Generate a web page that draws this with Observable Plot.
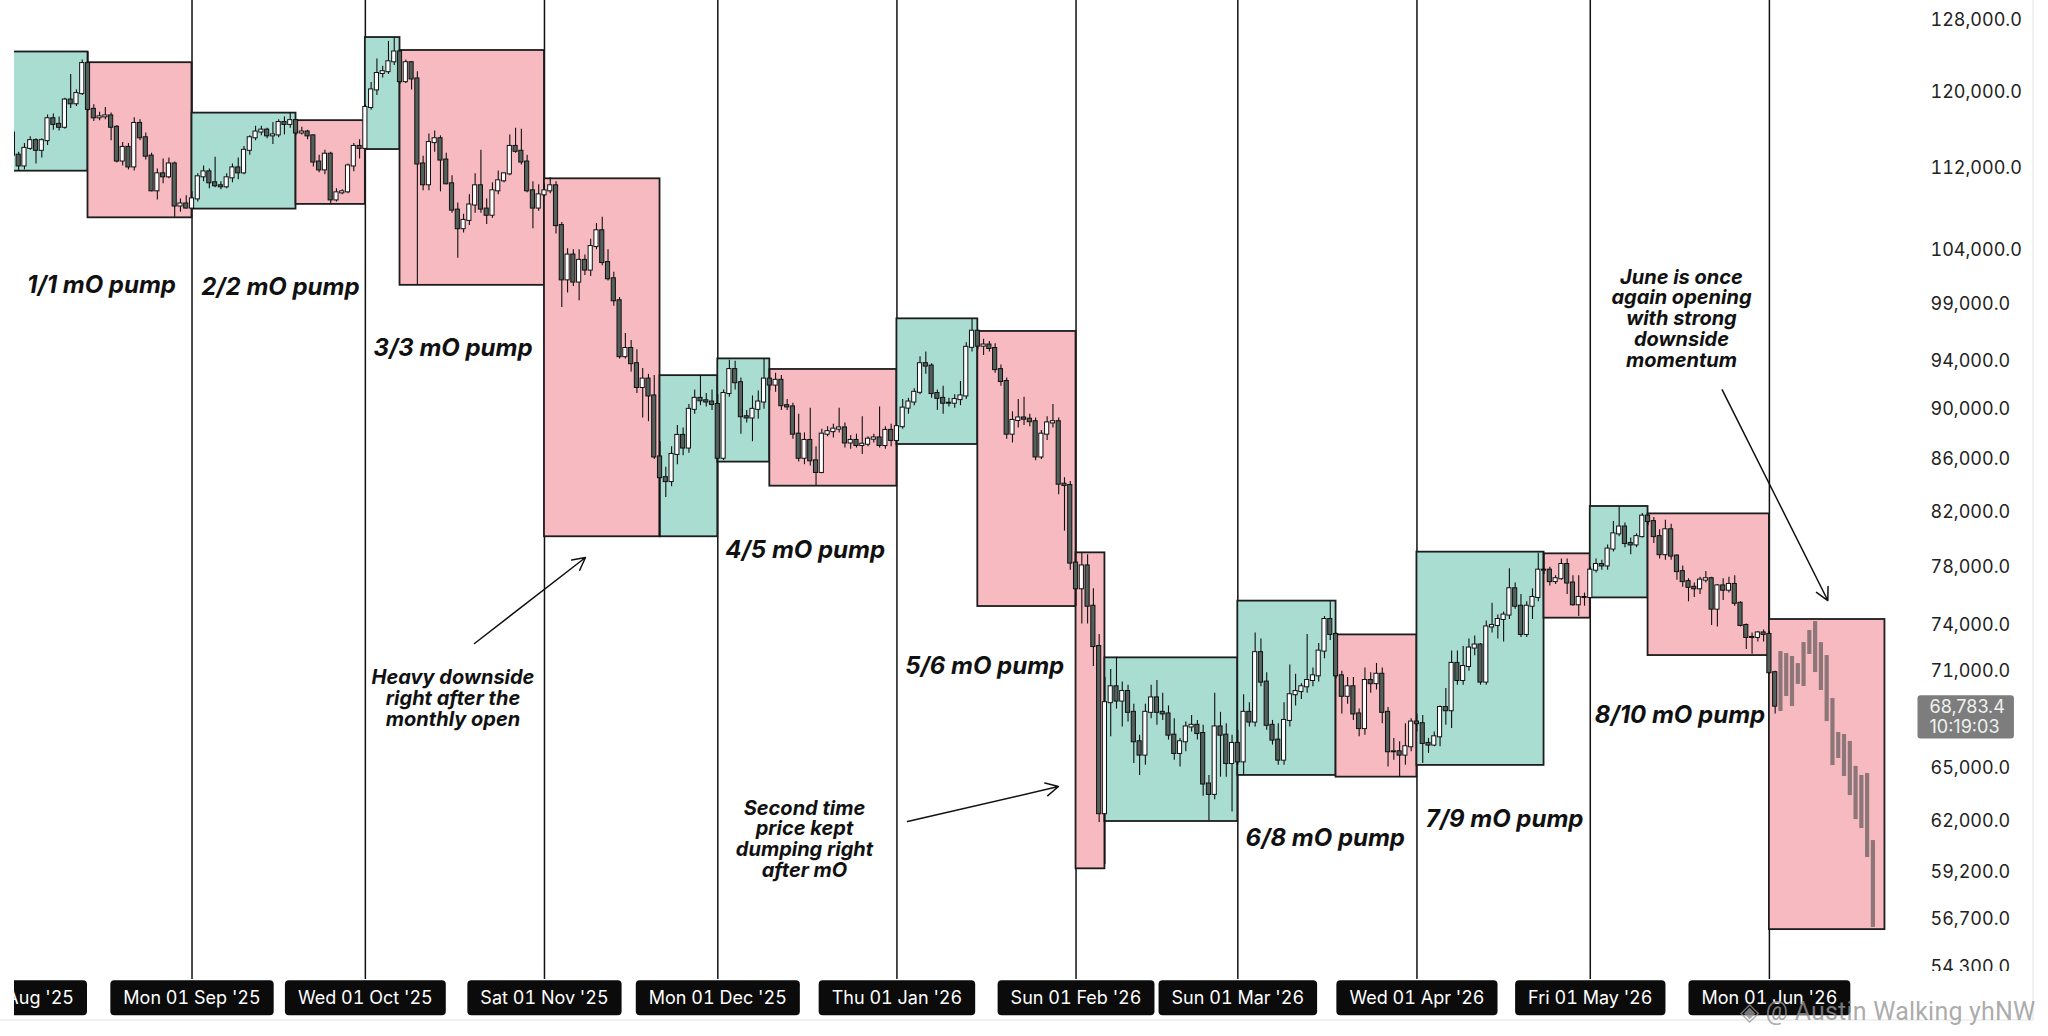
<!DOCTYPE html>
<html><head><meta charset="utf-8">
<script src="https://cdn.jsdelivr.net/npm/d3@7"></script>
<script src="https://cdn.jsdelivr.net/npm/@observablehq/plot@0.6"></script>
<style>
html,body{margin:0;padding:0;background:#fff;overflow:hidden}
#wrap{position:relative;width:2048px;height:1036px}
#wm{position:absolute;left:1740px;top:997px;font:25px Roboto,sans-serif;color:rgba(150,150,150,0.8);white-space:nowrap;letter-spacing:0.2px}
</style></head>
<body><div id="wrap"><div id="chart"></div><div id="wm">&#9672; @ Austin Walking yhNW</div></div>
<script>
// ---------- daily candles, thousands of USD: [open, high, low, close] ----------
const augOHLC = [
[115.6,116.0,112.6,113.3],[113.3,113.6,111.7,112.2],[112.2,114.5,111.8,114.0],[114.0,115.2,113.8,114.8],
[114.8,115.0,112.4,113.8],[113.8,115.0,113.0,114.8],[114.8,117.5,114.3,117.1],[117.1,117.6,115.9,116.5],
[116.5,117.3,115.8,116.2],[116.2,119.3,116.0,119.1],[119.1,121.9,118.2,118.7],[118.7,120.2,118.4,119.8],
[119.8,123.5,119.6,123.1],[123.1,124.4,117.9,118.1],[118.1,118.6,116.8,117.2],[117.2,117.8,116.9,117.3],
[117.3,118.3,117.0,117.4],[117.4,117.7,114.8,116.2],[116.2,116.4,112.5,112.7],[112.7,114.6,112.2,114.1],
[114.1,114.5,111.8,112.1],[112.1,117.2,111.7,116.6],[116.6,117.0,114.8,115.1],[115.1,115.6,112.8,113.2],
[113.2,113.5,109.6,109.7],[109.7,111.9,108.8,111.4],[111.4,112.9,110.4,111.1],[111.1,113.0,110.9,112.4],
[112.4,112.6,107.1,108.2],[108.2,108.9,107.6,108.4],[108.4,109.2,107.9,108.0]];
const sepOHLC = [
[108.0,109.6,107.9,108.9],[108.9,111.4,108.6,111.1],[111.1,112.2,110.6,111.6],[111.6,111.9,109.9,110.5],
[110.5,113.1,110.0,110.2],[110.2,110.6,109.8,110.1],[110.1,111.4,109.9,111.0],[111.0,112.4,110.5,112.0],
[112.0,113.0,110.8,111.5],[111.5,114.2,111.3,113.8],[113.8,115.3,113.3,115.1],[115.1,116.3,114.8,115.7],
[115.7,116.3,115.3,115.9],[115.9,116.1,115.0,115.3],[115.3,116.7,114.4,115.4],[115.4,117.0,115.1,116.7],
[116.7,117.3,115.4,116.5],[116.5,117.7,116.1,116.9],[116.9,116.9,115.3,115.6],[115.6,116.2,115.4,115.7],
[115.7,115.9,114.9,115.3],[115.3,115.4,112.1,112.6],[112.6,113.3,111.5,111.8],[111.8,113.8,111.3,113.4],
[113.4,113.6,108.4,108.8],[108.8,109.9,108.6,109.5],[109.5,109.8,109.3,109.6],[109.6,112.4,109.4,112.2],
[112.2,114.5,111.6,114.2],[114.2,114.9,112.9,114.0]];
const octOHLC = [
[114.0,118.6,113.9,118.3],[118.3,121.0,118.0,120.2],[120.2,123.6,119.6,122.0],[122.0,122.8,121.5,122.2],
[122.2,125.6,121.9,123.3],[123.3,126.0,122.9,124.4],[124.4,124.6,120.8,121.1],[121.1,123.5,120.9,123.2],
[123.2,123.3,120.2,121.4],[121.4,122.2,100.7,112.4],[112.4,113.2,109.7,110.3],[110.3,115.5,109.7,114.6],
[114.6,115.8,113.6,115.0],[115.0,115.3,109.6,112.8],[112.8,113.5,110.3,110.4],[110.4,111.2,107.5,107.8],
[107.8,108.5,103.2,106.0],[106.0,107.4,105.6,106.8],[106.8,109.3,106.3,108.3],[108.3,111.4,107.5,110.2],
[110.2,113.8,107.5,107.9],[107.9,108.9,106.4,107.3],[107.3,110.5,107.0,109.7],[109.7,111.7,109.3,110.7],
[110.7,111.5,110.5,111.4],[111.4,115.4,111.2,114.2],[114.2,116.1,113.5,113.7],[113.7,116.0,112.3,112.6],
[112.6,113.3,109.5,109.7],[109.7,110.6,106.0,108.0],[108.0,110.3,107.7,109.3]];
const novOHLC = [
[109.3,110.4,109.1,109.7],[109.7,111.0,109.4,110.2],[110.2,110.6,105.5,106.3],[106.3,106.6,98.7,101.2],
[101.2,104.1,100.0,103.5],[103.5,104.0,100.6,101.0],[101.0,104.0,99.3,103.0],[103.0,103.5,101.6,102.1],
[102.1,105.0,101.5,104.3],[104.3,106.5,104.0,105.8],[105.8,107.1,102.5,102.8],[102.8,104.0,101.1,101.3],
[101.3,101.9,98.8,99.3],[99.3,99.6,94.2,94.4],[94.4,96.4,94.2,95.1],[95.1,95.8,93.1,93.8],
[93.8,95.0,91.3,91.8],[91.8,93.4,89.3,92.5],[92.5,92.9,89.0,91.1],[91.1,92.8,86.0,86.2],
[86.2,87.4,80.2,84.6],[84.6,85.4,83.1,84.3],[84.3,87.0,83.9,86.4],[86.4,88.7,85.6,87.9],
[87.9,88.5,86.3,86.9],[86.9,90.4,86.5,90.0],[90.0,91.6,89.6,90.9],[90.9,92.8,90.3,90.7],
[90.7,91.3,90.2,90.6],[90.6,91.6,89.9,90.4]];
const decOHLC = [
[90.4,91.2,85.8,86.1],[86.1,91.6,85.9,91.3],[91.3,94.1,91.0,93.3],[93.3,94.0,91.6,92.2],
[92.2,92.6,88.0,89.4],[89.4,89.9,88.9,89.3],[89.3,91.1,87.4,90.0],[90.0,91.5,89.2,90.6],
[90.6,94.2,90.0,92.5],[92.5,93.3,91.5,92.0],[92.0,93.0,91.4,92.4],[92.4,92.8,89.9,90.3],
[90.3,90.8,89.9,90.2],[90.2,90.5,87.6,88.0],[88.0,89.6,85.8,86.1],[86.1,88.1,85.6,87.5],
[87.5,90.1,85.5,85.9],[85.9,87.0,84.0,85.0],[85.0,88.4,84.9,88.0],[88.0,88.6,87.8,88.2],
[88.2,88.8,87.7,88.4],[88.4,90.1,88.1,88.5],[88.5,88.9,86.9,87.3],[87.3,87.9,86.8,87.5],
[87.5,88.0,86.9,87.1],[87.1,89.4,86.4,87.2],[87.2,87.8,87.0,87.6],[87.6,88.0,87.3,87.7],
[87.7,90.2,86.9,87.1],[87.1,88.6,86.8,88.3],[88.3,88.8,87.0,87.5]];
const janOHLC = [
[87.5,88.7,87.2,88.6],[88.6,90.8,88.4,90.1],[90.1,90.9,89.6,90.6],[90.6,91.7,90.3,91.4],
[91.4,94.4,91.2,93.8],[93.8,94.8,92.9,93.6],[93.6,93.8,90.9,91.3],[91.3,91.6,89.9,90.9],
[90.9,91.9,89.6,90.5],[90.5,90.9,90.2,90.5],[90.5,91.2,90.1,90.8],[90.8,92.3,90.3,91.1],
[91.1,95.6,90.8,95.2],[95.2,97.7,94.8,96.6],[96.6,96.7,95.0,95.3],[95.3,95.9,94.5,95.4],
[95.4,95.7,94.8,95.1],[95.1,95.5,93.0,93.3],[93.3,93.7,91.9,92.3],[92.3,92.6,87.6,88.0],
[88.0,89.8,87.3,89.1],[89.1,90.8,88.5,89.3],[89.3,91.0,88.7,89.2],[89.2,89.6,88.6,89.0],
[89.0,89.3,85.9,86.2],[86.2,88.3,86.0,88.0],[88.0,89.4,87.5,88.9],[88.9,90.4,88.5,89.0],
[89.0,89.3,83.3,84.1],[84.1,84.6,80.6,84.0],[84.0,84.3,77.8,78.3]];
const febOHLC = [
[78.3,79.0,75.3,76.5],[76.5,79.0,74.1,78.1],[78.1,78.9,74.1,75.3],[75.3,76.5,71.3,72.6],
[72.6,73.4,61.9,62.4],[62.4,70.6,59.6,69.0],[69.0,71.1,66.9,70.0],[70.0,71.9,68.6,69.1],
[69.1,70.3,67.5,69.7],[69.7,70.1,67.8,68.4],[68.4,68.9,65.3,66.6],[66.6,67.0,64.6,65.8],
[65.8,68.9,65.2,68.4],[68.4,70.1,68.0,69.3],[69.3,70.4,67.6,68.4],[68.4,69.6,67.9,68.3],
[68.3,68.8,66.7,67.0],[67.0,68.0,65.5,65.9],[65.9,66.8,65.1,66.6],[66.6,67.8,66.0,67.5],
[67.5,68.2,67.2,67.6],[67.6,67.9,66.7,67.1],[67.1,67.6,63.4,64.1],[64.1,64.6,62.0,63.5],
[63.5,69.6,63.2,67.5],[67.5,68.4,64.5,67.0],[67.0,67.7,64.5,65.3],[65.3,67.0,62.5,66.5]];
const marOHLC = [
[66.5,67.3,65.2,65.4],[65.4,69.5,64.6,68.4],[68.4,69.0,67.5,67.8],[67.8,73.5,67.5,72.2],
[72.2,73.1,70.0,70.3],[70.3,70.9,67.3,67.6],[67.6,67.9,66.4,66.7],[66.7,67.7,65.2,65.5],
[65.5,69.0,65.2,67.9],[67.9,71.4,67.5,69.5],[69.5,70.8,68.8,69.7],[69.7,70.2,69.2,70.0],
[70.0,73.4,69.6,70.4],[70.4,71.2,70.0,70.7],[70.7,72.8,70.3,72.3],[72.3,74.6,71.8,74.4],
[74.4,75.6,73.0,73.4],[73.4,73.5,70.5,70.7],[70.7,71.0,68.3,69.4],[69.4,70.6,68.9,70.0],
[70.0,70.6,67.9,68.3],[68.3,68.6,66.9,67.4],[67.4,71.2,67.0,70.4],[70.4,70.9,69.6,70.2],
[70.2,71.5,69.8,70.8],[70.8,71.2,67.7,68.4],[68.4,68.7,65.1,66.0],[66.0,66.8,65.5,66.0],
[66.0,66.6,64.5,65.8],[65.8,67.7,65.2,66.3],[66.3,68.0,66.0,67.8]];
const aprOHLC = [
[67.8,68.3,67.2,67.7],[67.7,68.2,65.3,66.5],[66.5,66.8,65.9,66.4],[66.4,67.2,66.3,66.9],
[66.9,68.8,66.3,68.7],[68.7,69.9,67.6,68.5],[68.5,72.3,67.4,71.5],[71.5,72.3,70.1,70.4],
[70.4,72.6,70.1,71.3],[71.3,73.1,71.0,72.5],[72.5,73.3,72.0,72.7],[72.7,72.8,70.1,70.3],
[70.3,74.3,70.1,73.9],[73.9,75.5,73.5,74.0],[74.0,74.7,73.1,74.4],[74.4,74.9,72.9,74.7],
[74.7,77.9,74.4,76.5],[76.5,76.9,75.1,75.3],[75.3,76.1,73.2,73.4],[73.4,75.6,73.2,75.3],
[75.3,76.5,74.4,75.9],[75.9,79.0,75.6,77.8],[77.8,79.0,77.5,77.8],[77.8,78.0,76.7,77.0],
[77.0,77.4,76.8,77.2],[77.2,78.6,77.1,78.2],[78.2,78.6,76.1,76.9],[76.9,77.4,75.3,75.4],
[75.4,77.4,74.6,75.9],[75.9,76.2,75.3,75.9]];
const mayOHLC = [
[75.9,78.0,75.9,77.8],[77.8,78.6,77.6,78.2],[78.2,78.5,77.8,78.1],[78.1,79.6,77.8,79.3],
[79.3,81.3,79.1,80.4],[80.4,82.4,80.2,80.9],[80.9,81.2,79.4,79.7],[79.7,80.1,78.9,79.6],
[79.6,80.4,79.4,80.2],[80.2,81.9,80.1,81.7],[81.7,81.8,81.0,81.3],[81.3,81.6,79.7,80.2],
[80.2,80.7,78.6,78.9],[78.9,81.4,78.5,80.7],[80.7,81.1,78.5,78.8],[78.8,78.9,77.1,77.7],
[77.7,78.1,76.6,77.0],[77.0,77.2,75.6,76.6],[76.6,76.9,75.9,76.5],[76.5,77.3,76.1,77.1],
[77.1,77.7,76.9,77.2],[77.2,77.3,74.0,75.1],[75.1,76.8,73.9,76.7],[76.7,77.2,75.7,76.4],
[76.4,77.3,76.2,76.8],[76.8,77.4,75.3,75.5],[75.5,75.6,73.9,74.0],[74.0,74.1,72.4,73.2],
[73.2,73.5,72.1,73.2],[73.2,73.6,72.9,73.5],[73.5,73.7,72.9,73.4]];
const junOHLC = [[73.4,73.6,70.8,70.9],[70.9,71.0,68.3,68.7834]];
const monthStarts = ["2025-08-01","2025-09-01","2025-10-01","2025-11-01","2025-12-01","2026-01-01",
  "2026-02-01","2026-03-01","2026-04-01","2026-05-01","2026-06-01"];
const monthBlocks = [augOHLC,sepOHLC,octOHLC,novOHLC,decOHLC,janOHLC,febOHLC,marOHLC,aprOHLC,mayOHLC,junOHLC];

// ---------- projected (ghost) bars for June, thousands of USD ----------
const projStart = "2026-06-03";
const projHigh = [72.27,72.14,71.95,71.49,72.86,73.66,74.26,72.86,72.01,69.26,67.16,67.04,66.62,65.13,64.60,64.71,60.90];
const projLow  = [68.45,69.39,68.76,70.15,70.02,72.08,70.91,69.77,67.83,65.18,65.60,64.54,63.43,62.07,61.57,59.97,56.29];

// ---------- monthly-open range boxes ----------
const boxStart = ["2025-08-01","2025-08-14","2025-09-01","2025-09-19","2025-10-01","2025-10-07","2025-11-01","2025-11-21",
  "2025-12-01","2025-12-10","2026-01-01","2026-01-15","2026-02-01","2026-02-06","2026-03-01","2026-03-18",
  "2026-04-01","2026-04-23","2026-05-01","2026-05-11","2026-06-01"];
const boxEnd = ["2025-08-14","2025-09-01","2025-09-19","2025-10-01","2025-10-07","2025-11-01","2025-11-21","2025-12-01",
  "2025-12-10","2026-01-01","2026-01-15","2026-02-01","2026-02-06","2026-03-01","2026-03-18","2026-04-01",
  "2026-04-23","2026-05-01","2026-05-11","2026-06-01","2026-06-21"];
const boxHigh = [124.4,123.2,117.7,116.9,126.04,124.57,110.9,92.79,94.21,93.31,97.69,96.58,79.03,71.86,75.65,73.37,79.08,78.96,82.42,81.87,74.40];
const boxLow  = [111.67,107.05,107.9,108.36,113.88,100.7,80.19,80.19,85.80,83.95,87.18,75.28,59.36,61.96,64.60,64.50,65.19,74.49,75.87,72.01,56.18];
const boxKind = ["pump","dump","pump","dump","pump","dump","dump","pump","pump","dump","pump","dump","dump","pump","pump","dump","pump","dump","pump","dump","dump"];

// ---------- annotations ----------
const pumpLabels = ["1/1 mO pump","2/2 mO pump","3/3 mO pump","4/5 mO pump","5/6 mO pump","6/8 mO pump","7/9 mO pump","8/10 mO pump"];
const pumpLabelDates = ["2025-08-16T08:00Z","2025-09-16T07:00Z","2025-10-16T04:00Z","2025-12-16T03:00Z","2026-01-16T04:30Z","2026-03-16T03:20Z","2026-04-16T04:00Z","2026-05-16T12:40Z"];
const pumpLabelPrices = [100684,100502,95099,79197,71299,61011,62070,68203];
const noteTexts = ["Heavy downside\nright after the\nmonthly open","Second time\nprice kept\ndumping right\nafter mO","June is once\nagain opening\nwith strong\ndownside\nmomentum"];
const noteDates = ["2025-10-16T04:00Z","2025-12-16T00:00Z","2026-05-16T18:40Z"];
const notePrices = [69262,60983,97724];
const arrowFromDate = ["2025-10-19T21:20Z","2026-01-02T20:00Z","2026-05-23T20:00Z"];
const arrowFromPrice = [72799,61957,91608];
const arrowToDate = ["2025-11-08T02:25Z","2026-01-28T23:00Z","2026-06-11T02:40Z"];
const arrowToPrice = [78697,63953,75690];

// ---------- axes ----------
const yTicks = [128000,120000,112000,104000,99000,94000,90000,86000,82000,78000,74000,71000,65000,62000,59200,56700,54300];
const yDomain = [53893,130340];
const xDomain = ["2025-08-01T06:39Z","2026-06-23T16:34Z"];
const lastPrice = 68783.4;
const countdown = "10:19:03";

// ---------- build tables ----------
const DAY = 864e5;
const K = 1000;
const candles = [];
monthBlocks.forEach((rows, m) => {
  const t0 = Date.parse(monthStarts[m] + "T00:00Z");
  rows.forEach((r, i) => candles.push({date: new Date(t0 + i*DAY), open: r[0]*K, high: r[1]*K, low: r[2]*K, close: r[3]*K}));
});
const proj = projHigh.map((h, i) => ({date: new Date(Date.parse(projStart + "T00:00Z") + i*DAY), high: h*K, low: projLow[i]*K}));
const boxes = boxStart.map((s, i) => ({start: new Date(s + "T00:00Z"), end: new Date(boxEnd[i] + "T00:00Z"), high: boxHigh[i]*K, low: boxLow[i]*K, kind: boxKind[i]}));
const monthDates = monthStarts.map(s => new Date(s + "T00:00Z"));
const pumps = pumpLabels.map((t, i) => ({text: t, date: new Date(pumpLabelDates[i]), price: pumpLabelPrices[i]}));
const notes = noteTexts.map((t, i) => ({text: t, date: new Date(noteDates[i]), price: notePrices[i]}));
const arrows = arrowFromDate.map((d, i) => ({x1: new Date(d), y1: arrowFromPrice[i], x2: new Date(arrowToDate[i]), y2: arrowToPrice[i]}));
const half = 0.36*DAY;
const priceText = d3.format(",.1f")(lastPrice);

const chart = Plot.plot({
  width: 2048, height: 1036,
  marginTop: 0, marginBottom: 61, marginLeft: 14, marginRight: 148,
  style: {fontFamily: "Inter, 'Noto Sans', sans-serif", background: "#fff", color: "#1a1a1a"},
  x: {type: "utc", domain: xDomain.map(d => new Date(d))},
  y: {type: "log", domain: yDomain},
  marks: [
    Plot.ruleX(monthDates, {stroke: "#111", strokeWidth: 1.5, clip: true}),
    Plot.rect(boxes, {x1: "start", x2: "end", y1: "low", y2: "high",
      fill: d => d.kind === "pump" ? "#a9ddd2" : "#f8bac1", stroke: "#1d1d1d", strokeWidth: 1.8, clip: true}),
    Plot.ruleX(candles, {x: "date", y1: "low", y2: "high", stroke: "#111", strokeWidth: 1.1, clip: true}),
    Plot.rect(candles, {x1: d => new Date(+d.date - half), x2: d => new Date(+d.date + half), y1: "open", y2: "close",
      fill: d => d.close >= d.open ? "#ffffff" : "#53605b", stroke: "#111", strokeWidth: 1, insetTop: -0.5, insetBottom: -0.5, clip: true}),
    Plot.rect(proj, {x1: d => new Date(+d.date - half), x2: d => new Date(+d.date + half), y1: "low", y2: "high",
      fill: "#8c7678", clip: true}),
    Plot.text(pumps, {x: "date", y: "price", text: "text", fontSize: 24, fontWeight: "bold", fontStyle: "italic", fill: "#111"}),
    Plot.text(notes, {x: "date", y: "price", text: "text", fontSize: 20, lineHeight: 1.04, fontWeight: "bold", fontStyle: "italic", fill: "#111"}),
    Plot.arrow(arrows, {x1: "x1", y1: "y1", x2: "x2", y2: "y2", stroke: "#111", strokeWidth: 1.5, headLength: 14, headAngle: 55}),
    Plot.axisX({ticks: monthDates, tickFormat: d3.utcFormat("%a %d %b '%y"), tickSize: 4, tickPadding: 12,
      fontSize: 18, stroke: "#111", strokeWidth: 1.5, fill: "#fff", label: null}),
    Plot.axisY({anchor: "right", ticks: yTicks, tickFormat: d3.format(",.1f"), tickSize: 0, tickPadding: 30,
      fontSize: 18, fill: "#222", label: null}),
    Plot.text([{price: lastPrice, text: priceText + "\n" + countdown}],
      {y: "price", text: "text", frameAnchor: "right", dx: 29, dy: 10.5, textAnchor: "start", lineAnchor: "middle",
       lineHeight: 1.08, fontSize: 18, fill: "#f0f0f0"})
  ]
});

document.getElementById("chart").append(chart);
const svg = chart.tagName.toLowerCase() === "svg" ? chart : chart.querySelector("svg");
const NS = "http://www.w3.org/2000/svg";
function mk(tag, attrs) { const e = document.createElementNS(NS, tag); for (const k in attrs) e.setAttribute(k, attrs[k]); return e; }
function badge(t, padL, padR, padT, padB, h, color, rx) {
  const bb = t.getBBox();
  let y = bb.y - padT, hh = bb.height + padT + padB;
  if (h) { y = bb.y + bb.height / 2 - h / 2; hh = h; }
  const r = mk("rect", {x: bb.x - padL, y, width: bb.width + padL + padR, height: hh, rx, fill: color, stroke: "none"});
  const tr = t.getAttribute("transform"); if (tr) r.setAttribute("transform", tr);
  t.parentNode.insertBefore(r, t);
}
// black date badges behind the x tick labels
const dateRe = /^(Mon|Tue|Wed|Thu|Fri|Sat|Sun) \d\d /;
svg.querySelectorAll("text").forEach(t => {
  const s = t.textContent || "";
  if (dateRe.test(s)) badge(t, 13, 13, 0, 0, 35, "#0b0b0b", 4);
  else if (s.indexOf(priceText) === 0 && s.indexOf(countdown) > 0) badge(t, 12, 9, 1, 2, 0, "#7d7d7d", 3);
});
// pane edges
svg.append(mk("rect", {x: 0, y: 0, width: 14, height: 1036, fill: "#fff"}));
svg.append(mk("rect", {x: 1902, y: 971, width: 131, height: 49, fill: "#fff"}));
svg.append(mk("line", {x1: 2033, y1: 0, x2: 2033, y2: 1020, stroke: "#ececec", "stroke-width": 1.5}));
svg.append(mk("line", {x1: 0, y1: 1020, x2: 2033, y2: 1020, stroke: "#ececec", "stroke-width": 1.5}));
</script>
</body></html>
